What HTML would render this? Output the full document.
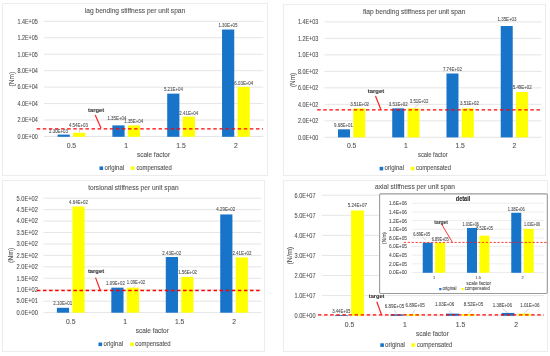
<!DOCTYPE html><html><head><meta charset="utf-8"><style>html,body{margin:0;padding:0;background:#fff;width:550px;height:356px;overflow:hidden}svg{display:block;will-change:transform;filter:blur(0.3px)}text{font-family:"Liberation Sans",sans-serif;stroke-width:0.1px}</style></head><body>
<svg width="550" height="356" viewBox="0 0 550 356">
<rect width="550" height="356" fill="#fff"/>
<rect x="2.5" y="3.5" width="265" height="172" rx="0" fill="#fff" stroke="#ececec" stroke-width="1"/>
<line x1="44.00" y1="136.50" x2="263.30" y2="136.50" stroke="#dedede" stroke-width="0.8"/>
<line x1="44.00" y1="120.04" x2="263.30" y2="120.04" stroke="#dedede" stroke-width="0.8"/>
<line x1="44.00" y1="103.59" x2="263.30" y2="103.59" stroke="#dedede" stroke-width="0.8"/>
<line x1="44.00" y1="87.13" x2="263.30" y2="87.13" stroke="#dedede" stroke-width="0.8"/>
<line x1="44.00" y1="70.67" x2="263.30" y2="70.67" stroke="#dedede" stroke-width="0.8"/>
<line x1="44.00" y1="54.21" x2="263.30" y2="54.21" stroke="#dedede" stroke-width="0.8"/>
<line x1="44.00" y1="37.76" x2="263.30" y2="37.76" stroke="#dedede" stroke-width="0.8"/>
<line x1="44.00" y1="21.30" x2="263.30" y2="21.30" stroke="#dedede" stroke-width="0.8"/>
<text x="37.80" y="23.60" font-size="6.4" text-anchor="end" fill="#555555" stroke="#555555" font-weight="normal" textLength="20.40" lengthAdjust="spacingAndGlyphs">1.4E+05</text>
<text x="37.80" y="40.06" font-size="6.4" text-anchor="end" fill="#555555" stroke="#555555" font-weight="normal" textLength="20.40" lengthAdjust="spacingAndGlyphs">1.2E+05</text>
<text x="37.80" y="56.52" font-size="6.4" text-anchor="end" fill="#555555" stroke="#555555" font-weight="normal" textLength="20.40" lengthAdjust="spacingAndGlyphs">1.0E+05</text>
<text x="37.80" y="72.98" font-size="6.4" text-anchor="end" fill="#555555" stroke="#555555" font-weight="normal" textLength="20.40" lengthAdjust="spacingAndGlyphs">8.0E+04</text>
<text x="37.80" y="89.43" font-size="6.4" text-anchor="end" fill="#555555" stroke="#555555" font-weight="normal" textLength="20.40" lengthAdjust="spacingAndGlyphs">6.0E+04</text>
<text x="37.80" y="105.89" font-size="6.4" text-anchor="end" fill="#555555" stroke="#555555" font-weight="normal" textLength="20.40" lengthAdjust="spacingAndGlyphs">4.0E+04</text>
<text x="37.80" y="122.35" font-size="6.4" text-anchor="end" fill="#555555" stroke="#555555" font-weight="normal" textLength="20.40" lengthAdjust="spacingAndGlyphs">2.0E+04</text>
<text x="37.80" y="138.80" font-size="6.4" text-anchor="end" fill="#555555" stroke="#555555" font-weight="normal" textLength="20.40" lengthAdjust="spacingAndGlyphs">0.0E+00</text>
<rect x="57.56" y="134.61" width="12.20" height="2.19" fill="#1774c9"/>
<rect x="73.06" y="132.76" width="12.20" height="4.04" fill="#ffff00"/>
<rect x="112.39" y="125.39" width="12.20" height="11.41" fill="#1774c9"/>
<rect x="127.89" y="125.39" width="12.20" height="11.41" fill="#ffff00"/>
<rect x="167.21" y="93.63" width="12.20" height="43.17" fill="#1774c9"/>
<rect x="182.71" y="116.67" width="12.20" height="20.13" fill="#ffff00"/>
<rect x="222.04" y="29.53" width="12.20" height="107.27" fill="#1774c9"/>
<rect x="237.54" y="86.88" width="12.20" height="49.92" fill="#ffff00"/>
<line x1="79.40" y1="130.00" x2="79.40" y2="132.50" stroke="#a6a6a6" stroke-width="0.5"/>
<line x1="36.70" y1="128.80" x2="263.00" y2="128.80" stroke="#ff0000" stroke-width="1.3" stroke-dasharray="3.5 2.59"/>
<line x1="95.20" y1="114.90" x2="101.10" y2="128.30" stroke="#ff2020" stroke-width="1.2"/>
<text x="96.10" y="111.92" font-size="5.9" text-anchor="middle" fill="#333333" stroke="#333333" font-weight="bold" textLength="16.00" lengthAdjust="spacingAndGlyphs">target</text>
<text x="58.50" y="133.08" font-size="5.5" text-anchor="middle" fill="#555555" stroke="#555555" font-weight="normal" textLength="18.90" lengthAdjust="spacingAndGlyphs">2.30E+03</text>
<text x="78.40" y="127.28" font-size="5.5" text-anchor="middle" fill="#555555" stroke="#555555" font-weight="normal" textLength="18.90" lengthAdjust="spacingAndGlyphs">4.54E+03</text>
<text x="116.90" y="119.78" font-size="5.5" text-anchor="middle" fill="#555555" stroke="#555555" font-weight="normal" textLength="18.90" lengthAdjust="spacingAndGlyphs">1.35E+04</text>
<text x="133.70" y="123.28" font-size="5.5" text-anchor="middle" fill="#555555" stroke="#555555" font-weight="normal" textLength="18.90" lengthAdjust="spacingAndGlyphs">1.35E+04</text>
<text x="173.40" y="91.38" font-size="5.5" text-anchor="middle" fill="#555555" stroke="#555555" font-weight="normal" textLength="18.90" lengthAdjust="spacingAndGlyphs">5.21E+04</text>
<text x="188.80" y="114.78" font-size="5.5" text-anchor="middle" fill="#555555" stroke="#555555" font-weight="normal" textLength="18.90" lengthAdjust="spacingAndGlyphs">2.41E+04</text>
<text x="227.90" y="27.08" font-size="5.5" text-anchor="middle" fill="#555555" stroke="#555555" font-weight="normal" textLength="18.90" lengthAdjust="spacingAndGlyphs">1.30E+05</text>
<text x="243.80" y="85.28" font-size="5.5" text-anchor="middle" fill="#555555" stroke="#555555" font-weight="normal" textLength="18.90" lengthAdjust="spacingAndGlyphs">6.03E+04</text>
<text x="71.41" y="148.15" font-size="6.8" text-anchor="middle" fill="#555555" stroke="#555555" font-weight="normal">0.5</text>
<text x="126.24" y="148.15" font-size="6.8" text-anchor="middle" fill="#555555" stroke="#555555" font-weight="normal">1</text>
<text x="181.06" y="148.15" font-size="6.8" text-anchor="middle" fill="#555555" stroke="#555555" font-weight="normal">1.5</text>
<text x="235.89" y="148.15" font-size="6.8" text-anchor="middle" fill="#555555" stroke="#555555" font-weight="normal">2</text>
<text x="153.50" y="157.32" font-size="7.0" text-anchor="middle" fill="#555555" stroke="#555555" font-weight="normal" textLength="33.10" lengthAdjust="spacingAndGlyphs">scale factor</text>
<text x="0" y="0" font-size="7.0" text-anchor="middle" fill="#555555" stroke="#555555" textLength="14.6" lengthAdjust="spacingAndGlyphs" transform="translate(14.12,79.20) rotate(-90)">(Nm)</text>
<text x="135.00" y="13.19" font-size="7.2" text-anchor="middle" fill="#555555" stroke="#555555" font-weight="normal" textLength="100.40" lengthAdjust="spacingAndGlyphs">lag bending stiffness per unit span</text>
<rect x="99.50" y="166.40" width="3.60" height="3.60" fill="#1774c9"/>
<text x="104.50" y="170.05" font-size="6.8" text-anchor="start" fill="#555555" stroke="#555555" font-weight="normal" textLength="19.70" lengthAdjust="spacingAndGlyphs">original</text>
<rect x="130.80" y="166.40" width="3.60" height="3.60" fill="#ffff00"/>
<text x="136.40" y="170.05" font-size="6.8" text-anchor="start" fill="#555555" stroke="#555555" font-weight="normal" textLength="35.40" lengthAdjust="spacingAndGlyphs">compensated</text>
<rect x="283.5" y="4.5" width="262" height="171" rx="0" fill="#fff" stroke="#ececec" stroke-width="1"/>
<line x1="324.50" y1="137.30" x2="541.50" y2="137.30" stroke="#dedede" stroke-width="0.8"/>
<line x1="324.50" y1="120.81" x2="541.50" y2="120.81" stroke="#dedede" stroke-width="0.8"/>
<line x1="324.50" y1="104.33" x2="541.50" y2="104.33" stroke="#dedede" stroke-width="0.8"/>
<line x1="324.50" y1="87.84" x2="541.50" y2="87.84" stroke="#dedede" stroke-width="0.8"/>
<line x1="324.50" y1="71.36" x2="541.50" y2="71.36" stroke="#dedede" stroke-width="0.8"/>
<line x1="324.50" y1="54.87" x2="541.50" y2="54.87" stroke="#dedede" stroke-width="0.8"/>
<line x1="324.50" y1="38.39" x2="541.50" y2="38.39" stroke="#dedede" stroke-width="0.8"/>
<line x1="324.50" y1="21.90" x2="541.50" y2="21.90" stroke="#dedede" stroke-width="0.8"/>
<text x="318.30" y="24.20" font-size="6.4" text-anchor="end" fill="#555555" stroke="#555555" font-weight="normal" textLength="20.40" lengthAdjust="spacingAndGlyphs">1.4E+03</text>
<text x="318.30" y="40.69" font-size="6.4" text-anchor="end" fill="#555555" stroke="#555555" font-weight="normal" textLength="20.40" lengthAdjust="spacingAndGlyphs">1.2E+03</text>
<text x="318.30" y="57.18" font-size="6.4" text-anchor="end" fill="#555555" stroke="#555555" font-weight="normal" textLength="20.40" lengthAdjust="spacingAndGlyphs">1.0E+03</text>
<text x="318.30" y="73.66" font-size="6.4" text-anchor="end" fill="#555555" stroke="#555555" font-weight="normal" textLength="20.40" lengthAdjust="spacingAndGlyphs">8.0E+02</text>
<text x="318.30" y="90.15" font-size="6.4" text-anchor="end" fill="#555555" stroke="#555555" font-weight="normal" textLength="20.40" lengthAdjust="spacingAndGlyphs">6.0E+02</text>
<text x="318.30" y="106.63" font-size="6.4" text-anchor="end" fill="#555555" stroke="#555555" font-weight="normal" textLength="20.40" lengthAdjust="spacingAndGlyphs">4.0E+02</text>
<text x="318.30" y="123.12" font-size="6.4" text-anchor="end" fill="#555555" stroke="#555555" font-weight="normal" textLength="20.40" lengthAdjust="spacingAndGlyphs">2.0E+02</text>
<text x="318.30" y="139.60" font-size="6.4" text-anchor="end" fill="#555555" stroke="#555555" font-weight="normal" textLength="20.40" lengthAdjust="spacingAndGlyphs">0.0E+00</text>
<rect x="337.98" y="129.32" width="12.00" height="8.08" fill="#1774c9"/>
<rect x="353.27" y="108.37" width="12.00" height="29.03" fill="#ffff00"/>
<rect x="392.23" y="108.37" width="12.00" height="29.03" fill="#1774c9"/>
<rect x="407.52" y="108.37" width="12.00" height="29.03" fill="#ffff00"/>
<rect x="446.48" y="73.50" width="12.00" height="63.90" fill="#1774c9"/>
<rect x="461.77" y="108.37" width="12.00" height="29.03" fill="#ffff00"/>
<rect x="500.73" y="26.02" width="12.00" height="111.38" fill="#1774c9"/>
<rect x="516.02" y="92.05" width="12.00" height="45.35" fill="#ffff00"/>
<line x1="418.50" y1="104.30" x2="414.50" y2="107.80" stroke="#a6a6a6" stroke-width="0.5"/>
<line x1="317.20" y1="109.90" x2="541.80" y2="109.90" stroke="#ff0000" stroke-width="1.3" stroke-dasharray="3.5 2.59"/>
<line x1="375.50" y1="96.00" x2="381.00" y2="109.80" stroke="#ff2020" stroke-width="1.2"/>
<text x="376.00" y="93.12" font-size="5.9" text-anchor="middle" fill="#333333" stroke="#333333" font-weight="bold" textLength="16.30" lengthAdjust="spacingAndGlyphs">target</text>
<text x="343.50" y="127.08" font-size="5.5" text-anchor="middle" fill="#555555" stroke="#555555" font-weight="normal" textLength="18.90" lengthAdjust="spacingAndGlyphs">9.68E+01</text>
<text x="359.60" y="106.08" font-size="5.5" text-anchor="middle" fill="#555555" stroke="#555555" font-weight="normal" textLength="18.90" lengthAdjust="spacingAndGlyphs">3.51E+02</text>
<text x="398.30" y="106.08" font-size="5.5" text-anchor="middle" fill="#555555" stroke="#555555" font-weight="normal" textLength="18.90" lengthAdjust="spacingAndGlyphs">3.51E+02</text>
<text x="419.10" y="102.98" font-size="5.5" text-anchor="middle" fill="#555555" stroke="#555555" font-weight="normal" textLength="18.60" lengthAdjust="spacingAndGlyphs">3.51E+02</text>
<text x="452.40" y="71.08" font-size="5.5" text-anchor="middle" fill="#555555" stroke="#555555" font-weight="normal" textLength="18.90" lengthAdjust="spacingAndGlyphs">7.74E+02</text>
<text x="469.50" y="105.18" font-size="5.5" text-anchor="middle" fill="#555555" stroke="#555555" font-weight="normal" textLength="18.90" lengthAdjust="spacingAndGlyphs">3.51E+02</text>
<text x="507.00" y="21.18" font-size="5.5" text-anchor="middle" fill="#555555" stroke="#555555" font-weight="normal" textLength="18.90" lengthAdjust="spacingAndGlyphs">1.35E+03</text>
<text x="522.20" y="89.38" font-size="5.5" text-anchor="middle" fill="#555555" stroke="#555555" font-weight="normal" textLength="18.90" lengthAdjust="spacingAndGlyphs">5.49E+02</text>
<text x="351.62" y="148.25" font-size="6.8" text-anchor="middle" fill="#555555" stroke="#555555" font-weight="normal">0.5</text>
<text x="405.88" y="148.25" font-size="6.8" text-anchor="middle" fill="#555555" stroke="#555555" font-weight="normal">1</text>
<text x="460.12" y="148.25" font-size="6.8" text-anchor="middle" fill="#555555" stroke="#555555" font-weight="normal">1.5</text>
<text x="514.38" y="148.25" font-size="6.8" text-anchor="middle" fill="#555555" stroke="#555555" font-weight="normal">2</text>
<text x="432.80" y="157.22" font-size="7.0" text-anchor="middle" fill="#555555" stroke="#555555" font-weight="normal" textLength="29.60" lengthAdjust="spacingAndGlyphs">scale factor</text>
<text x="0" y="0" font-size="7.0" text-anchor="middle" fill="#555555" stroke="#555555" textLength="14.1" lengthAdjust="spacingAndGlyphs" transform="translate(294.52,80.00) rotate(-90)">(Nm)</text>
<text x="414.20" y="13.89" font-size="7.2" text-anchor="middle" fill="#555555" stroke="#555555" font-weight="normal" textLength="102.40" lengthAdjust="spacingAndGlyphs">flap bending stiffness per unit span</text>
<rect x="379.60" y="166.80" width="3.60" height="3.60" fill="#1774c9"/>
<text x="384.40" y="170.45" font-size="6.8" text-anchor="start" fill="#555555" stroke="#555555" font-weight="normal" textLength="19.60" lengthAdjust="spacingAndGlyphs">original</text>
<rect x="410.80" y="166.80" width="3.60" height="3.60" fill="#ffff00"/>
<text x="416.00" y="170.45" font-size="6.8" text-anchor="start" fill="#555555" stroke="#555555" font-weight="normal" textLength="35.00" lengthAdjust="spacingAndGlyphs">compensated</text>
<rect x="2.5" y="180.5" width="262" height="171" rx="0" fill="#fff" stroke="#ececec" stroke-width="1"/>
<line x1="43.50" y1="312.60" x2="261.30" y2="312.60" stroke="#dedede" stroke-width="0.8"/>
<line x1="43.50" y1="301.16" x2="261.30" y2="301.16" stroke="#dedede" stroke-width="0.8"/>
<line x1="43.50" y1="289.72" x2="261.30" y2="289.72" stroke="#dedede" stroke-width="0.8"/>
<line x1="43.50" y1="278.28" x2="261.30" y2="278.28" stroke="#dedede" stroke-width="0.8"/>
<line x1="43.50" y1="266.84" x2="261.30" y2="266.84" stroke="#dedede" stroke-width="0.8"/>
<line x1="43.50" y1="255.40" x2="261.30" y2="255.40" stroke="#dedede" stroke-width="0.8"/>
<line x1="43.50" y1="243.96" x2="261.30" y2="243.96" stroke="#dedede" stroke-width="0.8"/>
<line x1="43.50" y1="232.52" x2="261.30" y2="232.52" stroke="#dedede" stroke-width="0.8"/>
<line x1="43.50" y1="221.08" x2="261.30" y2="221.08" stroke="#dedede" stroke-width="0.8"/>
<line x1="43.50" y1="209.64" x2="261.30" y2="209.64" stroke="#dedede" stroke-width="0.8"/>
<line x1="43.50" y1="198.20" x2="261.30" y2="198.20" stroke="#dedede" stroke-width="0.8"/>
<text x="37.90" y="200.50" font-size="6.4" text-anchor="end" fill="#555555" stroke="#555555" font-weight="normal" textLength="21.30" lengthAdjust="spacingAndGlyphs">5.0E+02</text>
<text x="37.90" y="211.94" font-size="6.4" text-anchor="end" fill="#555555" stroke="#555555" font-weight="normal" textLength="21.30" lengthAdjust="spacingAndGlyphs">4.5E+02</text>
<text x="37.90" y="223.38" font-size="6.4" text-anchor="end" fill="#555555" stroke="#555555" font-weight="normal" textLength="21.30" lengthAdjust="spacingAndGlyphs">4.0E+02</text>
<text x="37.90" y="234.82" font-size="6.4" text-anchor="end" fill="#555555" stroke="#555555" font-weight="normal" textLength="21.30" lengthAdjust="spacingAndGlyphs">3.5E+02</text>
<text x="37.90" y="246.26" font-size="6.4" text-anchor="end" fill="#555555" stroke="#555555" font-weight="normal" textLength="21.30" lengthAdjust="spacingAndGlyphs">3.0E+02</text>
<text x="37.90" y="257.70" font-size="6.4" text-anchor="end" fill="#555555" stroke="#555555" font-weight="normal" textLength="21.30" lengthAdjust="spacingAndGlyphs">2.5E+02</text>
<text x="37.90" y="269.14" font-size="6.4" text-anchor="end" fill="#555555" stroke="#555555" font-weight="normal" textLength="21.30" lengthAdjust="spacingAndGlyphs">2.0E+02</text>
<text x="37.90" y="280.58" font-size="6.4" text-anchor="end" fill="#555555" stroke="#555555" font-weight="normal" textLength="21.30" lengthAdjust="spacingAndGlyphs">1.5E+02</text>
<text x="37.90" y="292.02" font-size="6.4" text-anchor="end" fill="#555555" stroke="#555555" font-weight="normal" textLength="21.30" lengthAdjust="spacingAndGlyphs">1.0E+02</text>
<text x="37.90" y="303.46" font-size="6.4" text-anchor="end" fill="#555555" stroke="#555555" font-weight="normal" textLength="21.30" lengthAdjust="spacingAndGlyphs">5.0E+01</text>
<text x="37.90" y="314.90" font-size="6.4" text-anchor="end" fill="#555555" stroke="#555555" font-weight="normal" textLength="21.30" lengthAdjust="spacingAndGlyphs">0.0E+00</text>
<rect x="56.87" y="307.80" width="12.20" height="4.90" fill="#1774c9"/>
<rect x="72.38" y="206.44" width="12.20" height="106.26" fill="#ffff00"/>
<rect x="111.33" y="287.66" width="12.20" height="25.04" fill="#1774c9"/>
<rect x="126.83" y="287.66" width="12.20" height="25.04" fill="#ffff00"/>
<rect x="165.78" y="257.00" width="12.20" height="55.70" fill="#1774c9"/>
<rect x="181.28" y="276.91" width="12.20" height="35.79" fill="#ffff00"/>
<rect x="220.23" y="214.44" width="12.20" height="98.26" fill="#1774c9"/>
<rect x="235.73" y="257.46" width="12.20" height="55.24" fill="#ffff00"/>
<line x1="135.60" y1="285.30" x2="133.20" y2="287.50" stroke="#a6a6a6" stroke-width="0.5"/>
<line x1="36.90" y1="290.50" x2="261.80" y2="290.50" stroke="#ff0000" stroke-width="1.3" stroke-dasharray="3.5 2.59"/>
<line x1="95.50" y1="277.60" x2="100.30" y2="290.20" stroke="#ff2020" stroke-width="1.2"/>
<text x="96.00" y="273.42" font-size="5.9" text-anchor="middle" fill="#333333" stroke="#333333" font-weight="bold" textLength="16.20" lengthAdjust="spacingAndGlyphs">target</text>
<text x="62.80" y="305.48" font-size="5.5" text-anchor="middle" fill="#555555" stroke="#555555" font-weight="normal" textLength="18.90" lengthAdjust="spacingAndGlyphs">2.10E+01</text>
<text x="78.50" y="203.68" font-size="5.5" text-anchor="middle" fill="#555555" stroke="#555555" font-weight="normal" textLength="18.90" lengthAdjust="spacingAndGlyphs">4.64E+02</text>
<text x="115.50" y="284.88" font-size="5.5" text-anchor="middle" fill="#555555" stroke="#555555" font-weight="normal" textLength="18.90" lengthAdjust="spacingAndGlyphs">1.09E+02</text>
<text x="136.00" y="283.68" font-size="5.5" text-anchor="middle" fill="#555555" stroke="#555555" font-weight="normal" textLength="18.30" lengthAdjust="spacingAndGlyphs">1.09E+02</text>
<text x="171.80" y="254.78" font-size="5.5" text-anchor="middle" fill="#555555" stroke="#555555" font-weight="normal" textLength="18.90" lengthAdjust="spacingAndGlyphs">2.43E+02</text>
<text x="187.60" y="273.98" font-size="5.5" text-anchor="middle" fill="#555555" stroke="#555555" font-weight="normal" textLength="18.90" lengthAdjust="spacingAndGlyphs">1.56E+02</text>
<text x="225.80" y="211.48" font-size="5.5" text-anchor="middle" fill="#555555" stroke="#555555" font-weight="normal" textLength="18.90" lengthAdjust="spacingAndGlyphs">4.29E+02</text>
<text x="241.90" y="254.78" font-size="5.5" text-anchor="middle" fill="#555555" stroke="#555555" font-weight="normal" textLength="18.90" lengthAdjust="spacingAndGlyphs">2.41E+02</text>
<text x="70.72" y="323.65" font-size="6.8" text-anchor="middle" fill="#555555" stroke="#555555" font-weight="normal">0.5</text>
<text x="125.18" y="323.65" font-size="6.8" text-anchor="middle" fill="#555555" stroke="#555555" font-weight="normal">1</text>
<text x="179.62" y="323.65" font-size="6.8" text-anchor="middle" fill="#555555" stroke="#555555" font-weight="normal">1.5</text>
<text x="234.08" y="323.65" font-size="6.8" text-anchor="middle" fill="#555555" stroke="#555555" font-weight="normal">2</text>
<text x="152.30" y="332.72" font-size="7.0" text-anchor="middle" fill="#555555" stroke="#555555" font-weight="normal" textLength="33.20" lengthAdjust="spacingAndGlyphs">scale factor</text>
<text x="0" y="0" font-size="7.0" text-anchor="middle" fill="#555555" stroke="#555555" textLength="15.4" lengthAdjust="spacingAndGlyphs" transform="translate(13.22,255.30) rotate(-90)">(Nm)</text>
<text x="133.40" y="189.89" font-size="7.2" text-anchor="middle" fill="#555555" stroke="#555555" font-weight="normal" textLength="90.40" lengthAdjust="spacingAndGlyphs">torsional stiffness per unit span</text>
<rect x="98.50" y="342.50" width="3.60" height="3.60" fill="#1774c9"/>
<text x="103.60" y="346.15" font-size="6.8" text-anchor="start" fill="#555555" stroke="#555555" font-weight="normal" textLength="19.50" lengthAdjust="spacingAndGlyphs">original</text>
<rect x="130.30" y="342.50" width="3.60" height="3.60" fill="#ffff00"/>
<text x="135.30" y="346.15" font-size="6.8" text-anchor="start" fill="#555555" stroke="#555555" font-weight="normal" textLength="35.30" lengthAdjust="spacingAndGlyphs">compensated</text>
<rect x="283.5" y="180.5" width="264" height="171" rx="0" fill="#fff" stroke="#ececec" stroke-width="1"/>
<line x1="321.70" y1="315.70" x2="543.80" y2="315.70" stroke="#dedede" stroke-width="0.8"/>
<line x1="321.70" y1="295.62" x2="543.80" y2="295.62" stroke="#dedede" stroke-width="0.8"/>
<line x1="321.70" y1="275.53" x2="543.80" y2="275.53" stroke="#dedede" stroke-width="0.8"/>
<line x1="321.70" y1="255.45" x2="543.80" y2="255.45" stroke="#dedede" stroke-width="0.8"/>
<line x1="321.70" y1="235.37" x2="543.80" y2="235.37" stroke="#dedede" stroke-width="0.8"/>
<line x1="321.70" y1="215.28" x2="543.80" y2="215.28" stroke="#dedede" stroke-width="0.8"/>
<line x1="321.70" y1="195.20" x2="543.80" y2="195.20" stroke="#dedede" stroke-width="0.8"/>
<text x="315.60" y="197.58" font-size="6.6" text-anchor="end" fill="#555555" stroke="#555555" font-weight="normal" textLength="21.00" lengthAdjust="spacingAndGlyphs">6.0E+07</text>
<text x="315.60" y="217.66" font-size="6.6" text-anchor="end" fill="#555555" stroke="#555555" font-weight="normal" textLength="21.00" lengthAdjust="spacingAndGlyphs">5.0E+07</text>
<text x="315.60" y="237.74" font-size="6.6" text-anchor="end" fill="#555555" stroke="#555555" font-weight="normal" textLength="21.00" lengthAdjust="spacingAndGlyphs">4.0E+07</text>
<text x="315.60" y="257.83" font-size="6.6" text-anchor="end" fill="#555555" stroke="#555555" font-weight="normal" textLength="21.00" lengthAdjust="spacingAndGlyphs">3.0E+07</text>
<text x="315.60" y="277.91" font-size="6.6" text-anchor="end" fill="#555555" stroke="#555555" font-weight="normal" textLength="21.00" lengthAdjust="spacingAndGlyphs">2.0E+07</text>
<text x="315.60" y="297.99" font-size="6.6" text-anchor="end" fill="#555555" stroke="#555555" font-weight="normal" textLength="21.00" lengthAdjust="spacingAndGlyphs">1.0E+07</text>
<text x="315.60" y="318.08" font-size="6.6" text-anchor="end" fill="#555555" stroke="#555555" font-weight="normal" textLength="21.00" lengthAdjust="spacingAndGlyphs">0.0E+00</text>
<rect x="335.01" y="315.01" width="12.80" height="0.79" fill="#1774c9"/>
<rect x="351.11" y="210.46" width="12.80" height="105.34" fill="#ffff00"/>
<rect x="390.54" y="314.32" width="12.80" height="1.48" fill="#1774c9"/>
<rect x="406.64" y="314.32" width="12.80" height="1.48" fill="#ffff00"/>
<rect x="446.06" y="313.63" width="12.80" height="2.17" fill="#1774c9"/>
<rect x="462.16" y="313.99" width="12.80" height="1.81" fill="#ffff00"/>
<rect x="501.59" y="312.93" width="12.80" height="2.87" fill="#1774c9"/>
<rect x="517.69" y="313.67" width="12.80" height="2.13" fill="#ffff00"/>
<line x1="394.40" y1="309.90" x2="396.40" y2="313.70" stroke="#a6a6a6" stroke-width="0.5"/>
<line x1="414.70" y1="309.90" x2="412.70" y2="313.70" stroke="#a6a6a6" stroke-width="0.5"/>
<line x1="448.70" y1="310.40" x2="452.00" y2="313.70" stroke="#a6a6a6" stroke-width="0.5"/>
<line x1="472.30" y1="309.40" x2="468.20" y2="313.70" stroke="#a6a6a6" stroke-width="0.5"/>
<line x1="502.60" y1="308.80" x2="508.30" y2="313.20" stroke="#a6a6a6" stroke-width="0.5"/>
<line x1="528.70" y1="309.10" x2="523.80" y2="313.70" stroke="#a6a6a6" stroke-width="0.5"/>
<line x1="318.00" y1="314.90" x2="543.80" y2="314.90" stroke="#ff0000" stroke-width="1.3" stroke-dasharray="3.5 2.59"/>
<line x1="376.80" y1="301.80" x2="381.60" y2="315.00" stroke="#ff2020" stroke-width="1.2"/>
<rect x="368.00" y="293.60" width="17.60" height="5.60" fill="#fff"/>
<text x="376.60" y="298.12" font-size="5.9" text-anchor="middle" fill="#333333" stroke="#333333" font-weight="bold" textLength="15.70" lengthAdjust="spacingAndGlyphs">target</text>
<text x="341.30" y="312.78" font-size="5.5" text-anchor="middle" fill="#555555" stroke="#555555" font-weight="normal" textLength="18.30" lengthAdjust="spacingAndGlyphs">3.44E+05</text>
<text x="357.40" y="207.38" font-size="5.5" text-anchor="middle" fill="#555555" stroke="#555555" font-weight="normal" textLength="19.30" lengthAdjust="spacingAndGlyphs">5.24E+07</text>
<text x="394.50" y="307.78" font-size="5.5" text-anchor="middle" fill="#555555" stroke="#555555" font-weight="normal" textLength="19.30" lengthAdjust="spacingAndGlyphs">6.89E+05</text>
<text x="415.20" y="306.98" font-size="5.5" text-anchor="middle" fill="#555555" stroke="#555555" font-weight="normal" textLength="19.30" lengthAdjust="spacingAndGlyphs">6.89E+05</text>
<text x="444.60" y="305.88" font-size="5.5" text-anchor="middle" fill="#555555" stroke="#555555" font-weight="normal" textLength="19.30" lengthAdjust="spacingAndGlyphs">1.03E+06</text>
<text x="473.50" y="306.18" font-size="5.5" text-anchor="middle" fill="#555555" stroke="#555555" font-weight="normal" textLength="19.30" lengthAdjust="spacingAndGlyphs">8.52E+05</text>
<text x="502.40" y="306.98" font-size="5.5" text-anchor="middle" fill="#555555" stroke="#555555" font-weight="normal" textLength="19.30" lengthAdjust="spacingAndGlyphs">1.38E+06</text>
<text x="529.80" y="306.98" font-size="5.5" text-anchor="middle" fill="#555555" stroke="#555555" font-weight="normal" textLength="19.30" lengthAdjust="spacingAndGlyphs">1.01E+06</text>
<text x="349.46" y="326.65" font-size="6.8" text-anchor="middle" fill="#555555" stroke="#555555" font-weight="normal">0.5</text>
<text x="404.99" y="326.65" font-size="6.8" text-anchor="middle" fill="#555555" stroke="#555555" font-weight="normal">1</text>
<text x="460.51" y="326.65" font-size="6.8" text-anchor="middle" fill="#555555" stroke="#555555" font-weight="normal">1.5</text>
<text x="516.04" y="326.65" font-size="6.8" text-anchor="middle" fill="#555555" stroke="#555555" font-weight="normal">2</text>
<text x="432.40" y="336.12" font-size="7.0" text-anchor="middle" fill="#555555" stroke="#555555" font-weight="normal" textLength="32.80" lengthAdjust="spacingAndGlyphs">scale factor</text>
<text x="0" y="0" font-size="7.0" text-anchor="middle" fill="#555555" stroke="#555555" textLength="17.6" lengthAdjust="spacingAndGlyphs" transform="translate(292.02,255.70) rotate(-90)">(N/m)</text>
<text x="415.00" y="189.39" font-size="7.2" text-anchor="middle" fill="#555555" stroke="#555555" font-weight="normal" textLength="80.00" lengthAdjust="spacingAndGlyphs">axial stiffness per unit span</text>
<rect x="380.30" y="343.30" width="3.60" height="3.60" fill="#1774c9"/>
<text x="385.00" y="346.95" font-size="6.8" text-anchor="start" fill="#555555" stroke="#555555" font-weight="normal" textLength="20.00" lengthAdjust="spacingAndGlyphs">original</text>
<rect x="411.40" y="343.30" width="3.60" height="3.60" fill="#ffff00"/>
<text x="417.00" y="346.95" font-size="6.8" text-anchor="start" fill="#555555" stroke="#555555" font-weight="normal" textLength="35.40" lengthAdjust="spacingAndGlyphs">compensated</text>
<rect x="379.6" y="193.9" width="167.69999999999993" height="99.6" rx="1.2" fill="#fff" stroke="#9a9a9a" stroke-width="1.1"/>
<line x1="411.80" y1="272.50" x2="544.60" y2="272.50" stroke="#e8e8e8" stroke-width="0.8"/>
<line x1="411.80" y1="263.85" x2="544.60" y2="263.85" stroke="#e8e8e8" stroke-width="0.8"/>
<line x1="411.80" y1="255.20" x2="544.60" y2="255.20" stroke="#e8e8e8" stroke-width="0.8"/>
<line x1="411.80" y1="246.55" x2="544.60" y2="246.55" stroke="#e8e8e8" stroke-width="0.8"/>
<line x1="411.80" y1="237.90" x2="544.60" y2="237.90" stroke="#e8e8e8" stroke-width="0.8"/>
<line x1="411.80" y1="229.25" x2="544.60" y2="229.25" stroke="#e8e8e8" stroke-width="0.8"/>
<line x1="411.80" y1="220.60" x2="544.60" y2="220.60" stroke="#e8e8e8" stroke-width="0.8"/>
<line x1="411.80" y1="211.95" x2="544.60" y2="211.95" stroke="#e8e8e8" stroke-width="0.8"/>
<line x1="411.80" y1="203.30" x2="544.60" y2="203.30" stroke="#e8e8e8" stroke-width="0.8"/>
<text x="407.00" y="205.24" font-size="5.4" text-anchor="end" fill="#555555" stroke="#555555" font-weight="normal" textLength="18.00" lengthAdjust="spacingAndGlyphs">1.6E+06</text>
<text x="407.00" y="213.89" font-size="5.4" text-anchor="end" fill="#555555" stroke="#555555" font-weight="normal" textLength="18.00" lengthAdjust="spacingAndGlyphs">1.4E+06</text>
<text x="407.00" y="222.54" font-size="5.4" text-anchor="end" fill="#555555" stroke="#555555" font-weight="normal" textLength="18.00" lengthAdjust="spacingAndGlyphs">1.2E+06</text>
<text x="407.00" y="231.19" font-size="5.4" text-anchor="end" fill="#555555" stroke="#555555" font-weight="normal" textLength="18.00" lengthAdjust="spacingAndGlyphs">1.0E+06</text>
<text x="407.00" y="239.84" font-size="5.4" text-anchor="end" fill="#555555" stroke="#555555" font-weight="normal" textLength="18.00" lengthAdjust="spacingAndGlyphs">8.0E+05</text>
<text x="407.00" y="248.49" font-size="5.4" text-anchor="end" fill="#555555" stroke="#555555" font-weight="normal" textLength="18.00" lengthAdjust="spacingAndGlyphs">6.0E+05</text>
<text x="407.00" y="257.14" font-size="5.4" text-anchor="end" fill="#555555" stroke="#555555" font-weight="normal" textLength="18.00" lengthAdjust="spacingAndGlyphs">4.0E+05</text>
<text x="407.00" y="265.79" font-size="5.4" text-anchor="end" fill="#555555" stroke="#555555" font-weight="normal" textLength="18.00" lengthAdjust="spacingAndGlyphs">2.0E+05</text>
<text x="407.00" y="274.44" font-size="5.4" text-anchor="end" fill="#555555" stroke="#555555" font-weight="normal" textLength="18.00" lengthAdjust="spacingAndGlyphs">0.0E+00</text>
<rect x="422.73" y="242.70" width="10.00" height="30.10" fill="#1774c9"/>
<rect x="435.13" y="242.70" width="10.00" height="30.10" fill="#ffff00"/>
<rect x="467.00" y="227.95" width="10.00" height="44.85" fill="#1774c9"/>
<rect x="479.40" y="235.65" width="10.00" height="37.15" fill="#ffff00"/>
<rect x="511.27" y="212.81" width="10.00" height="59.99" fill="#1774c9"/>
<rect x="523.67" y="228.82" width="10.00" height="43.98" fill="#ffff00"/>
<line x1="422.50" y1="236.80" x2="425.70" y2="240.10" stroke="#a6a6a6" stroke-width="0.5"/>
<line x1="403.80" y1="242.40" x2="547.00" y2="242.40" stroke="#ff1010" stroke-width="0.8" stroke-dasharray="2.3 1.6"/>
<line x1="441.60" y1="224.20" x2="452.50" y2="242.40" stroke="#ff2020" stroke-width="0.9"/>
<text x="441.10" y="223.77" font-size="5.2" text-anchor="middle" fill="#3c3c3c" stroke="#3c3c3c" font-weight="bold" textLength="13.50" lengthAdjust="spacingAndGlyphs">target</text>
<text x="421.70" y="235.53" font-size="4.8" text-anchor="middle" fill="#555555" stroke="#555555" font-weight="normal" textLength="17.10" lengthAdjust="spacingAndGlyphs">6.89E+05</text>
<text x="440.20" y="240.73" font-size="4.8" text-anchor="middle" fill="#555555" stroke="#555555" font-weight="normal" textLength="16.90" lengthAdjust="spacingAndGlyphs">6.89E+05</text>
<text x="470.70" y="225.73" font-size="4.8" text-anchor="middle" fill="#555555" stroke="#555555" font-weight="normal" textLength="16.50" lengthAdjust="spacingAndGlyphs">1.03E+06</text>
<text x="484.60" y="230.33" font-size="4.8" text-anchor="middle" fill="#555555" stroke="#555555" font-weight="normal" textLength="16.50" lengthAdjust="spacingAndGlyphs">8.52E+05</text>
<text x="516.30" y="210.83" font-size="4.8" text-anchor="middle" fill="#555555" stroke="#555555" font-weight="normal" textLength="16.90" lengthAdjust="spacingAndGlyphs">1.38E+06</text>
<text x="532.10" y="225.53" font-size="4.8" text-anchor="middle" fill="#555555" stroke="#555555" font-weight="normal" textLength="16.20" lengthAdjust="spacingAndGlyphs">1.01E+06</text>
<text x="434.00" y="278.70" font-size="3.9" text-anchor="middle" fill="#555555" stroke="#555555" font-weight="normal">1</text>
<text x="478.20" y="278.70" font-size="3.9" text-anchor="middle" fill="#555555" stroke="#555555" font-weight="normal">1.5</text>
<text x="522.50" y="278.70" font-size="3.9" text-anchor="middle" fill="#555555" stroke="#555555" font-weight="normal">2</text>
<text x="478.70" y="285.19" font-size="5.8" text-anchor="middle" fill="#555555" stroke="#555555" font-weight="normal" textLength="24.70" lengthAdjust="spacingAndGlyphs">scale factor</text>
<text x="0" y="0" font-size="5.2" text-anchor="middle" fill="#555555" stroke="#555555" textLength="11.8" lengthAdjust="spacingAndGlyphs" transform="translate(386.27,238.00) rotate(-90)">(N/m)</text>
<text x="463.00" y="200.90" font-size="6.4" text-anchor="middle" fill="#262626" stroke="#262626" font-weight="bold" textLength="14.50" lengthAdjust="spacingAndGlyphs">detail</text>
<rect x="439.20" y="288.00" width="2.20" height="2.20" fill="#1774c9"/>
<text x="442.50" y="290.23" font-size="4.8" text-anchor="start" fill="#555555" stroke="#555555" font-weight="normal" textLength="13.90" lengthAdjust="spacingAndGlyphs">original</text>
<rect x="461.50" y="288.00" width="2.20" height="2.20" fill="#ffff00"/>
<text x="464.80" y="290.23" font-size="4.8" text-anchor="start" fill="#555555" stroke="#555555" font-weight="normal" textLength="25.00" lengthAdjust="spacingAndGlyphs">compensated</text>
</svg></body></html>
